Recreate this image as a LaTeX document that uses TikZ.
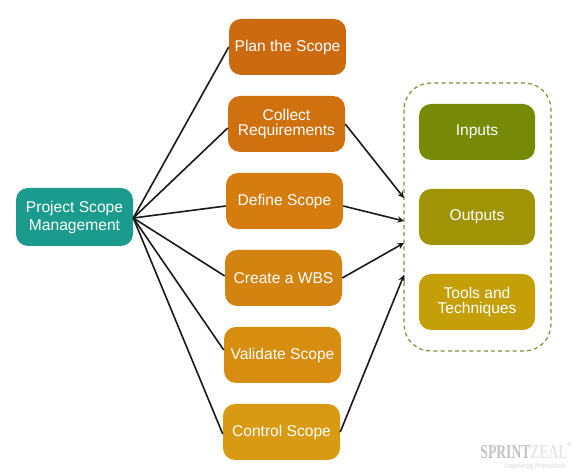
\documentclass[tikz,border=0pt]{standalone}
\usepackage{xcolor}
\usepackage{fontspec}
\setmainfont{Liberation Sans}
\newfontfamily\markfont[FakeStretch=.69]{Liberation Serif}
\definecolor{scopeteal}{HTML}{1A9B8E}
\definecolor{inputcol}{HTML}{768A08}
\definecolor{outputcol}{HTML}{A09306}
\definecolor{toolcol}{HTML}{C49F08}
\definecolor{framecol}{HTML}{7E8F3A}
\tikzset{
  procbox/.style={draw=none,rounded corners=9pt,minimum width=87.75pt,minimum height=42pt,
    inner sep=0pt,align=center,text=white,font=\fontsize{11.7pt}{11.4pt}\selectfont},
  link/.style={line width=1.2pt,black!90},
  inlink/.style={link,->,>=stealth},
}
\begin{document}
\begin{tikzpicture}[x=.75pt,y=-.75pt]
  \useasboundingbox (0,0) rectangle (575,473);
  \draw[framecol,line width=.9pt,rounded corners=20pt,dash pattern=on 3pt off 2.4pt] (404,83) rectangle (551,351);
  \node[procbox,fill=scopeteal,minimum height=43.5pt,font=\fontsize{11.7pt}{13.5pt}\selectfont] (manage) at (74.5,217) {Project Scope\\Management};
  \foreach \name/\x/\y/\col/\off/\txt in {
    plan/287.5/47/CC6A10/0/Plan the Scope,
    collect/286.5/124/D0710F/-3/Collect\\Requirements,
    define/284.5/201/D47D0E/-3.75/Define Scope,
    wbs/283.5/278/D28310/1.5/Create a WBS,
    validate/282.5/355/D68D10/3.75/Validate Scope,
    control/281.5/432/D89A12/-1.5/Control Scope}{
    \definecolor{boxcol}{HTML}{\col}
    \node[procbox,fill=boxcol] (\name) at (\x,\y) {\txt};
    \draw[link] ([yshift=-.75pt]manage.east) -- ([yshift=\off pt]\name.west);
  }
  \node[procbox,fill=inputcol,minimum width=87pt] (inputs) at (477,132) {Inputs};
  \node[procbox,fill=outputcol,minimum width=87pt] (outputs) at (477,217) {Outputs};
  \node[procbox,fill=toolcol,minimum width=87pt] (tools) at (477,302) {Tools and\\Techniques};
  \coordinate (inA) at (404,198);
  \coordinate (inB) at (404,221);
  \coordinate (inC) at (404,243);
  \coordinate (inD) at (404,275);
  \draw[inlink] (collect.east) -- (inA);
  \draw[inlink] ([yshift=-3.75pt]define.east) -- (inB);
  \draw[inlink] (wbs.east) -- (inC);
  \draw[inlink] (control.east) -- (inD);
  % faint logo, lower right
  \node[font=\markfont\bfseries\fontsize{14.8pt}{15pt}\selectfont,inner sep=0pt] (logo) at (524,452) {\textcolor{black!24}{SPRINT}\textcolor{red!8!black!10}{ZEAL}};
  \node[text=black!22,font=\fontsize{4pt}{4pt}\selectfont,inner sep=0pt] (regmark) at (569,445) {®};
  \node[text=black!16,font=\markfont\fontsize{6.2pt}{7pt}\selectfont,inner sep=0pt] (tagline) at (535,466.5) {Empowering Professionals};
\end{tikzpicture}
\end{document}
